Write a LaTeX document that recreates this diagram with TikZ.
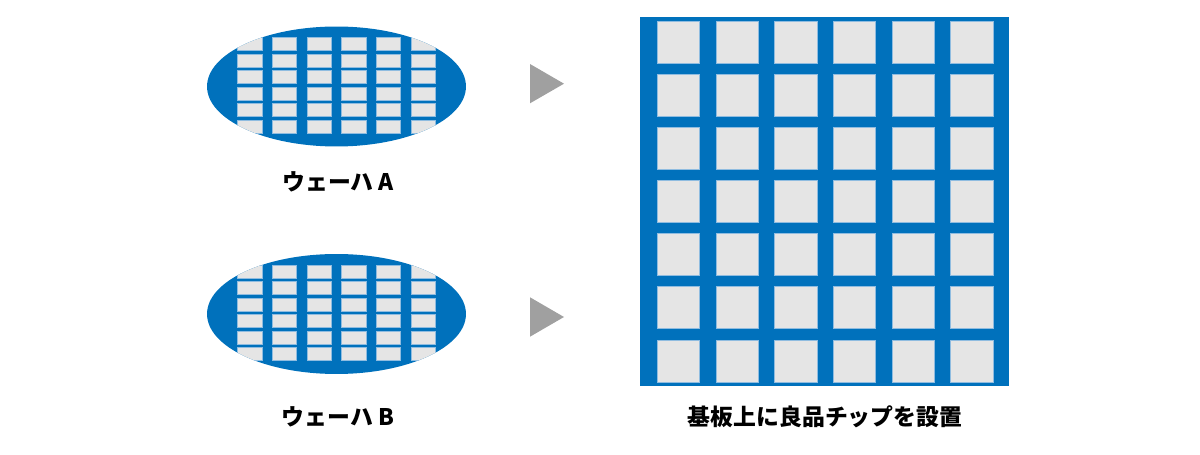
\documentclass[tikz,border=0pt]{standalone}
\usepackage{fontspec}
\newfontfamily\jpfont{Noto Sans CJK JP}
\usetikzlibrary{shapes.geometric}
\definecolor{waferblue}{HTML}{0071BC}
\definecolor{chipgray}{HTML}{E5E5E5}
\definecolor{chipedge}{HTML}{8FBCE0}
\definecolor{arrowgray}{HTML}{A0A0A0}

\begin{document}
\begin{tikzpicture}[x=0.02cm, y=-0.02cm,
	wafer/.style={ellipse, fill=waferblue, inner sep=0pt, minimum width=5.18cm, minimum height=2.4cm},
	board/.style={rectangle, fill=waferblue, inner sep=0pt, minimum width=7.38cm, minimum height=7.37cm},
	chip/.style={fill=chipgray, draw=chipedge, line width=0.4pt},
	jplabel/.style={font=\jpfont\bfseries\fontsize{13}{15}\selectfont, inner sep=0pt}]
	\useasboundingbox (0,0) rectangle (1200,455);
	\foreach \w/\oy/\ty in {A/0/182, B/227.5/416.5} {
		\node[wafer] (wafer\w) at (336.5,{86.5+\oy}) {};
		\begin{scope}
			\clip (wafer\w.center) ellipse [x radius=2.59cm, y radius=1.2cm];
			\foreach \i in {0,...,5}
				\foreach \j in {0,...,5}
					\draw[chip] ({237.7+34.7*\i},{37.7+\oy+16.5*\j}) rectangle ++(24.3,13);
		\end{scope}
		\node[jplabel] (label\w) at (338,\ty) {ウェーハ \w};
	}
	\fill[arrowgray] (530,64) -- (564,83.7) -- (530,103.3) -- cycle;
	\fill[arrowgray] (530,297.3) -- (564,317) -- (530,336.7) -- cycle;
	\node[board] (board) at (824.5,201.5) {};
	\foreach \i in {0,...,5}
		\foreach \j in {0,...,6}
			\draw[chip] ({657.3+58.7*\i},{21+53.17*\j}) rectangle ++(42.3,42);
	\node[jplabel] (boardlabel) at (825,417) {基板上に良品チップを設置};
\end{tikzpicture}
\end{document}
